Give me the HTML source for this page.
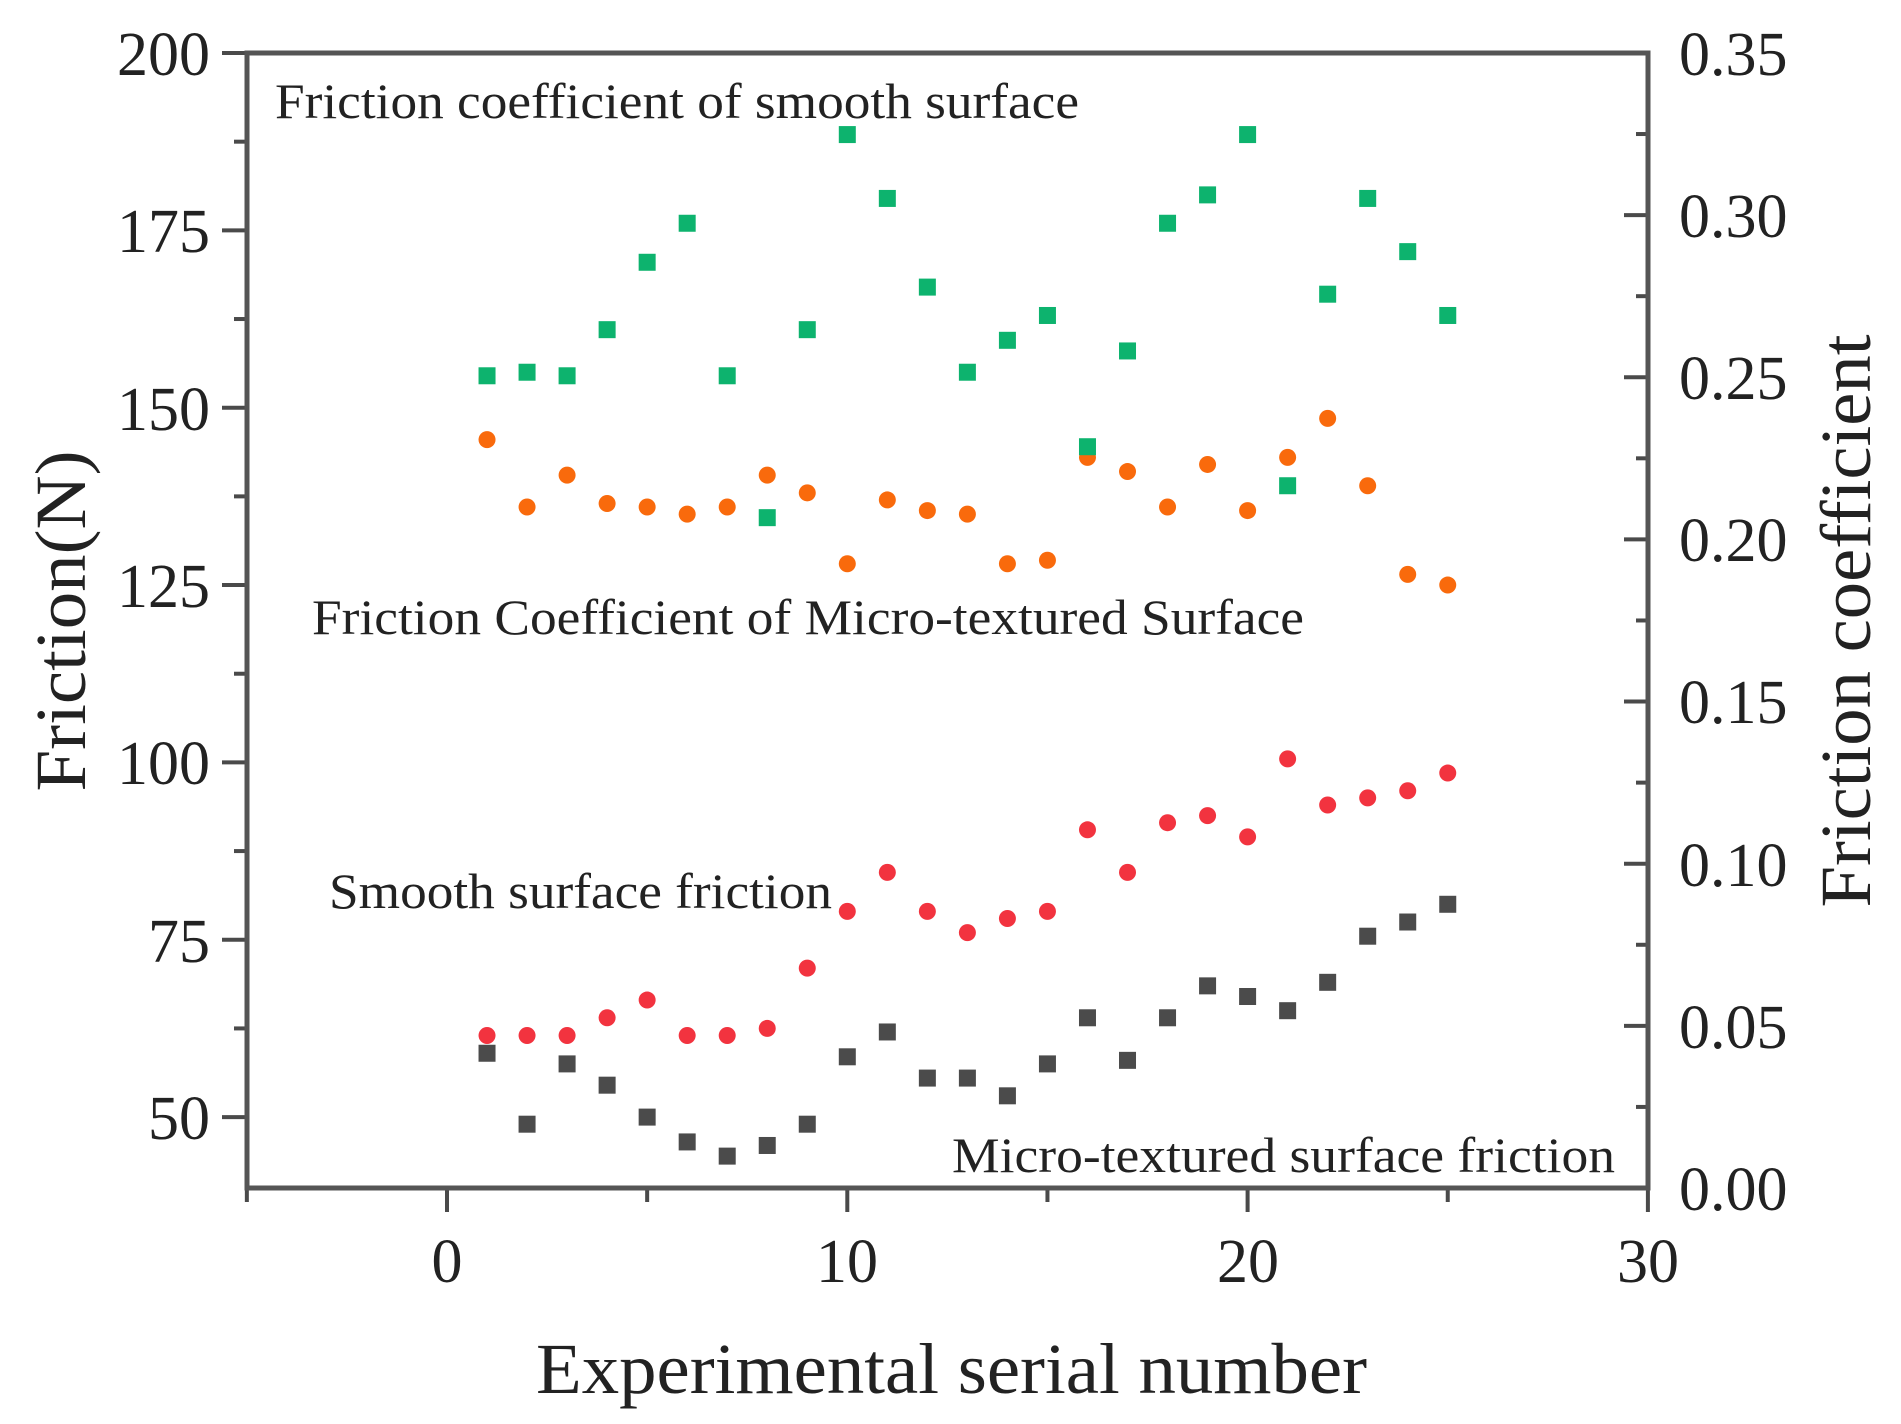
<!DOCTYPE html>
<html><head><meta charset="utf-8"><style>
html,body{margin:0;padding:0;background:#fff;}
svg{display:block;font-family:"Liberation Serif",serif;}
</style></head><body>
<svg id="s" width="1901" height="1424" viewBox="0 0 1901 1424" xmlns="http://www.w3.org/2000/svg">
<g id="ticks" stroke="#4a4a4a" stroke-width="4"></g>
<g id="pts"></g>
<rect x="247" y="53" width="1401" height="1135" fill="none" stroke="#555" stroke-width="5"/>
<g fill="#222" font-size="62">
<text x="210" y="75" text-anchor="end">200</text>
<text x="210" y="252" text-anchor="end">175</text>
<text x="210" y="430" text-anchor="end">150</text>
<text x="210" y="607" text-anchor="end">125</text>
<text x="210" y="784" text-anchor="end">100</text>
<text x="210" y="962" text-anchor="end">75</text>
<text x="210" y="1139" text-anchor="end">50</text>
<text x="1679" y="75">0.35</text>
<text x="1679" y="237">0.30</text>
<text x="1679" y="399">0.25</text>
<text x="1679" y="561">0.20</text>
<text x="1679" y="723">0.15</text>
<text x="1679" y="886">0.10</text>
<text x="1679" y="1048">0.05</text>
<text x="1679" y="1210">0.00</text>
<text x="447" y="1282" text-anchor="middle">0</text>
<text x="847" y="1282" text-anchor="middle">10</text>
<text x="1248" y="1282" text-anchor="middle">20</text>
<text x="1648" y="1282" text-anchor="middle">30</text>
</g>
<g fill="#222" font-size="50">
<text x="275" y="118" textLength="804" lengthAdjust="spacingAndGlyphs">Friction coefficient of smooth surface</text>
<text x="312" y="634" textLength="992" lengthAdjust="spacingAndGlyphs">Friction Coefficient of Micro-textured Surface</text>
<text x="329" y="908" textLength="503" lengthAdjust="spacingAndGlyphs">Smooth surface friction</text>
<text x="952" y="1172" textLength="663" lengthAdjust="spacingAndGlyphs">Micro-textured surface friction</text>
</g>
<g fill="#222" font-size="72">
<text x="536" y="1393" textLength="831" lengthAdjust="spacingAndGlyphs">Experimental serial number</text>
<text transform="translate(85,621) rotate(-90)" text-anchor="middle" textLength="341" lengthAdjust="spacingAndGlyphs">Friction(N)</text>
<text transform="translate(1870,621) rotate(-90)" text-anchor="middle" textLength="573" lengthAdjust="spacingAndGlyphs">Friction coefficient</text>
</g>
</svg>
<script>
const NS="http://www.w3.org/2000/svg";
const X=v=>447+v*40.03, Y=v=>53+(200-v)*7.094;
const g=document.getElementById('pts'), t=document.getElementById('ticks');
function el(p,n,a){const e=document.createElementNS(NS,n);for(const k in a)e.setAttribute(k,a[k]);p.appendChild(e);}
const green=[154.5,155,154.5,161,170.5,176,154.5,134.5,161,188.5,179.5,167,155,159.5,163,144.5,158,176,180,188.5,139,166,179.5,172,163];
const orange=[145.5,136,140.5,136.5,136,135,136,140.5,138,128,137,135.5,135,128,128.5,143,141,136,142,135.5,143,148.5,139,126.5,125];
const red=[61.5,61.5,61.5,64,66.5,61.5,61.5,62.5,71,79,84.5,79,76,78,79,90.5,84.5,91.5,92.5,89.5,100.5,94,95,96,98.5];
const black=[59,49,57.5,54.5,50,46.5,44.5,46,49,58.5,62,55.5,55.5,53,57.5,64,58,64,68.5,67,65,69,75.5,77.5,80];
black.forEach((v,i)=>el(g,'rect',{x:X(i+1)-8.5,y:Y(v)-8.5,width:17,height:17,fill:'#4b4b4b'}));
red.forEach((v,i)=>el(g,'circle',{cx:X(i+1),cy:Y(v),r:8.5,fill:'#f2333f'}));
orange.forEach((v,i)=>el(g,'circle',{cx:X(i+1),cy:Y(v),r:8.5,fill:'#f96a0c'}));
green.forEach((v,i)=>el(g,'rect',{x:X(i+1)-8.5,y:Y(v)-8.5,width:17,height:17,fill:'#0db36e'}));
// left ticks
for(let v=200;v>=40;v-=12.5){const y=Y(v);const major=(v%25===0);el(t,'line',{x1:major?222:234,y1:y,x2:247,y2:y});}
// right ticks
for(let c=0;c<=0.35001;c+=0.025){const y=1188-c*3243;const major=Math.abs(c*20-Math.round(c*20))<1e-6;el(t,'line',{x1:major?1624:1636,y1:y,x2:1648,y2:y});}
// bottom ticks
for(let v=-5;v<=30;v+=5){const x=X(v);const major=(v%10===0);el(t,'line',{x1:x,y1:1188,x2:x,y2:major?1212:1202});}
</script>
</body></html>
